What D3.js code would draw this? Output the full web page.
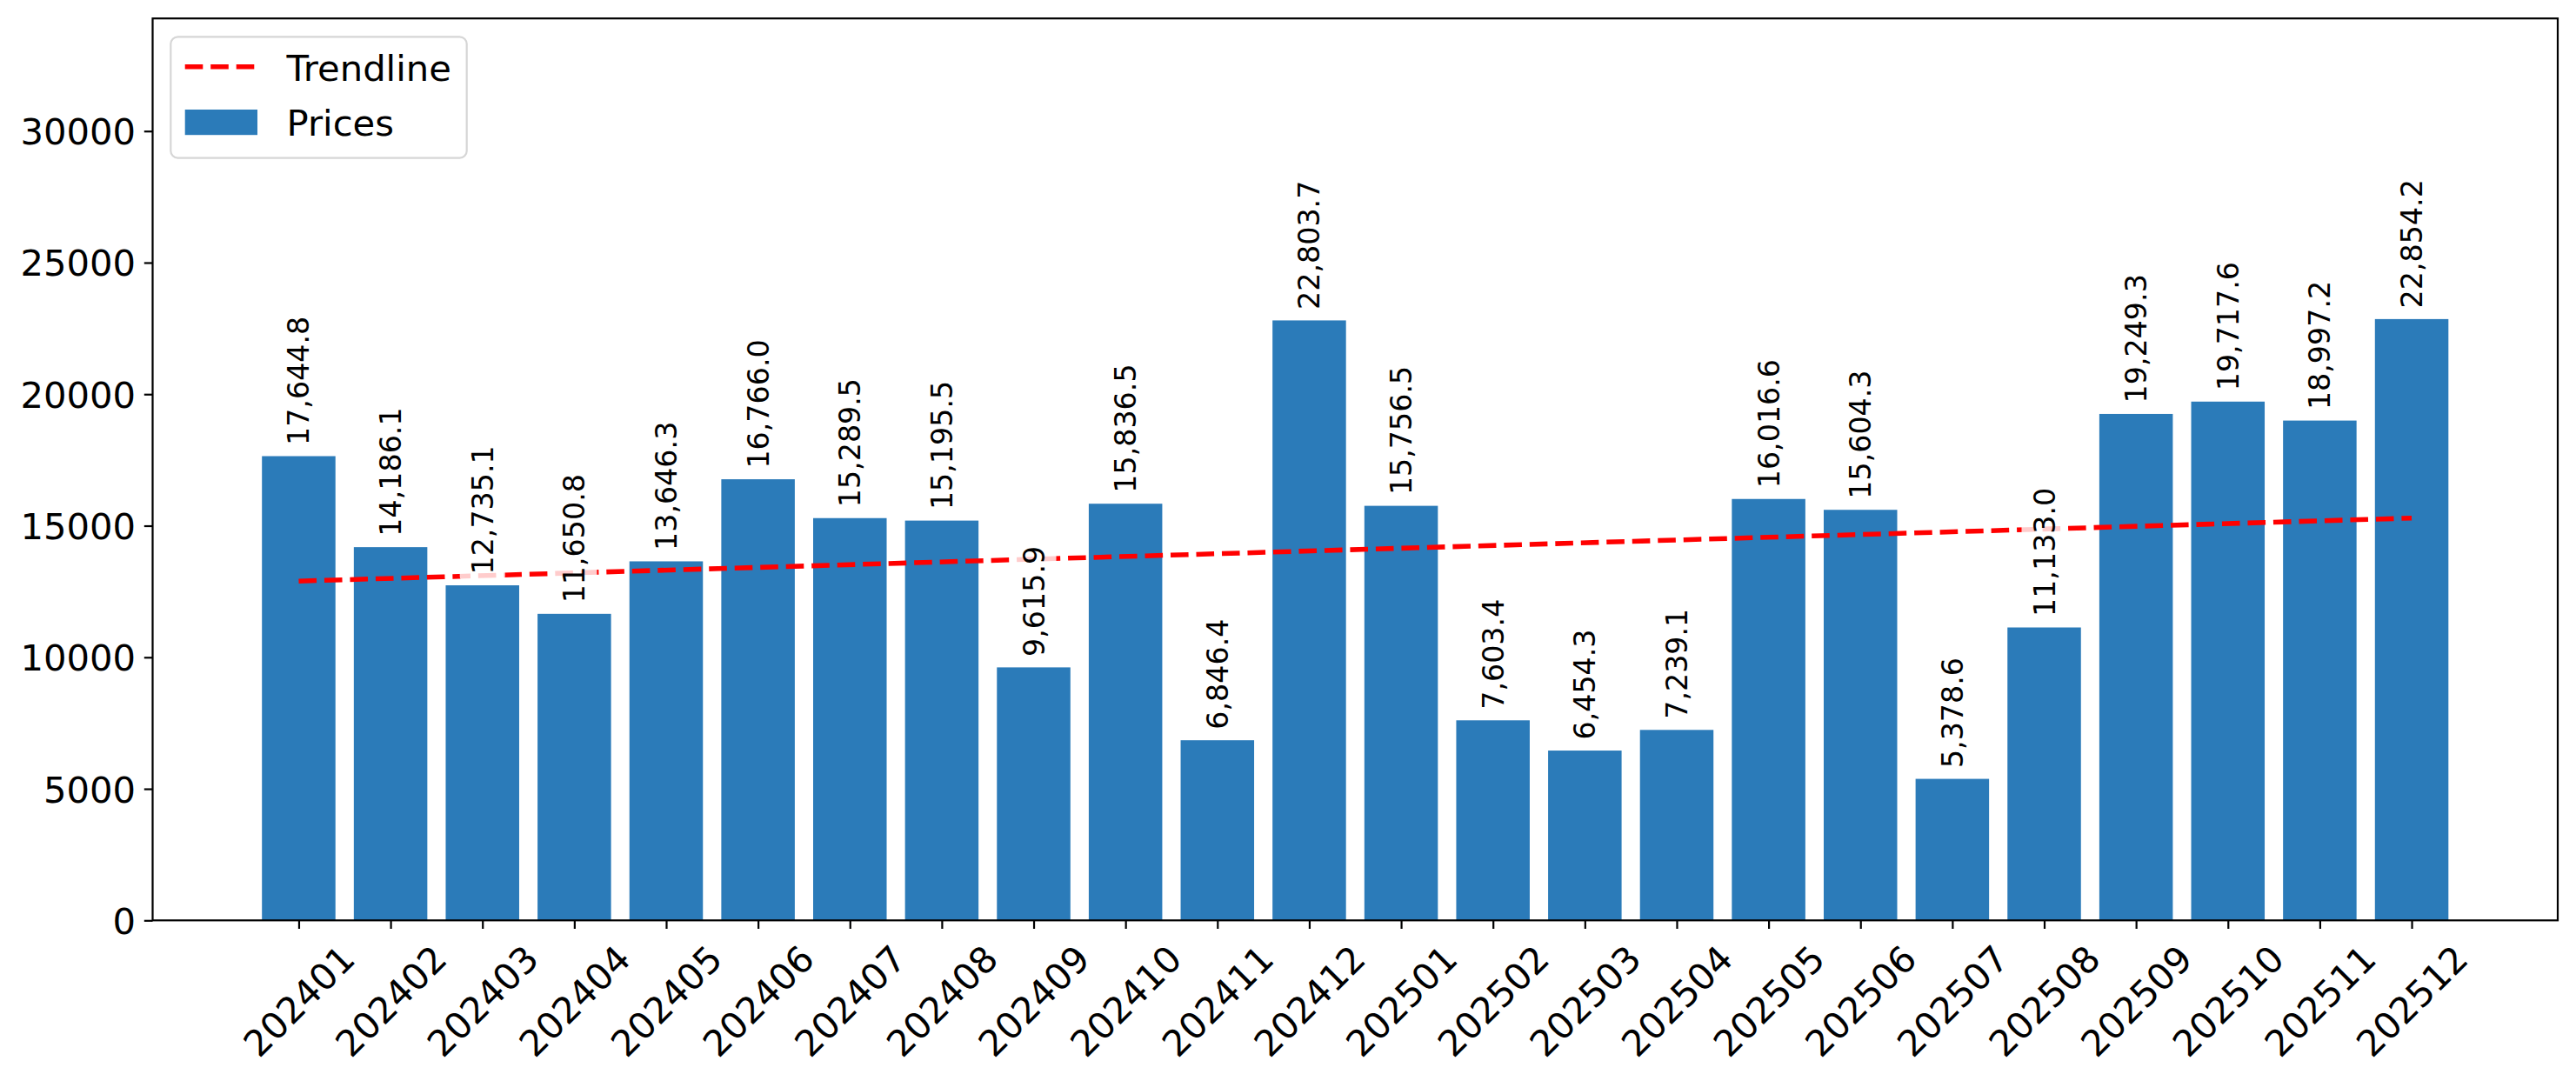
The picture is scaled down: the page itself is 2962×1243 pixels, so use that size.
<!DOCTYPE html>
<html>
<head>
<meta charset="utf-8">
<script src="https://cdn.jsdelivr.net/npm/d3@7"></script>
<style>
  html, body { margin: 0; padding: 0; background: #ffffff; }
  svg { display: block; }
</style>
</head>
<body>
<svg id="chart" width="2962" height="1243"></svg>
<script>
// ---- data ----
const categories = ["202401","202402","202403","202404","202405","202406","202407","202408","202409","202410","202411","202412",
                    "202501","202502","202503","202504","202505","202506","202507","202508","202509","202510","202511","202512"];
const prices = [17644.8,14186.1,12735.1,11650.8,13646.3,16766.0,15289.5,15195.5,9615.9,15836.5,6846.4,22803.7,
                15756.5,7603.4,6454.3,7239.1,16016.6,15604.3,5378.6,11133.0,19249.3,19717.6,18997.2,22854.2];
const trendIndex = [0, 23];
const trendValues = [12895.1, 15289.9];
const yTickValues = [0, 5000, 10000, 15000, 20000, 25000, 30000];
const legendLabels = ["Trendline", "Prices"];

// ---- layout ----
const W = 2962, H = 1243;
const plot = { left: 175.5, right: 2941, top: 21.2, bottom: 1058.3 };
const FONT = "'DejaVu Sans', sans-serif";
const tickFont = 41.7, labelFont = 33.3;
const barColor = "#2b7bb9";
const lw = 2.2, tickLen = 9.7, tickPad = 9.7;

const svg = d3.select("#chart");
svg.append("rect").attr("width", W).attr("height", H).attr("fill", "#ffffff");

const n = categories.length;
const margin = 0.05 * ((n - 1 + 0.4) - (-0.4));
const x = d3.scaleLinear().domain([-0.4 - margin, n - 1 + 0.4 + margin]).range([plot.left, plot.right]);
const yMax = d3.max(prices) * 1.5;
const y = d3.scaleLinear().domain([0, yMax]).range([plot.bottom, plot.top]);
const barW = x(0.4) - x(-0.4);

// bars
svg.append("g").selectAll("rect").data(prices).join("rect")
  .attr("x", (d, i) => x(i) - barW / 2)
  .attr("y", d => y(d))
  .attr("width", barW)
  .attr("height", d => y(0) - y(d))
  .attr("fill", barColor);

// trendline
const trendData = trendIndex.map((t, k) => ({ i: t, v: trendValues[k] }));
svg.append("path")
  .datum(trendData)
  .attr("d", d3.line().x(d => x(d.i)).y(d => y(d.v)))
  .attr("fill", "none")
  .attr("stroke", "#ff0000")
  .attr("stroke-width", 5.56)
  .attr("stroke-dasharray", "20.6 8.9");

// bar labels with semi-transparent white boxes
const fmt = d3.format(",.1f");
const lab = svg.append("g").selectAll("g").data(prices).join("g")
  .attr("transform", (d, i) => `translate(${x(i)},${y(d) - 12.5}) rotate(-90)`);
const boxes = lab.append("rect")
  .attr("fill", "#ffffff").attr("fill-opacity", 0.8)
  .attr("rx", 5).attr("ry", 5);
const texts = lab.append("text")
  .attr("dy", "0.36em")
  .attr("text-anchor", "start")
  .attr("font-family", FONT)
  .attr("font-size", labelFont)
  .attr("fill", "#000")
  .text(d => fmt(d));
texts.each(function () {
  const len = this.getComputedTextLength();
  d3.select(this.previousSibling)
    .attr("x", -7.5).attr("y", -26)
    .attr("width", len + 7.5 + 6.7).attr("height", 52);
});

// y axis
const yAxis = svg.append("g")
  .attr("transform", `translate(${plot.left},0)`)
  .call(d3.axisLeft(y).tickValues(yTickValues).tickFormat(d3.format("d")).tickSize(tickLen).tickPadding(tickPad));
yAxis.select(".domain").remove();
yAxis.selectAll(".tick line").attr("stroke", "#000").attr("stroke-width", lw);
yAxis.selectAll(".tick text")
  .attr("font-family", FONT).attr("font-size", tickFont).attr("fill", "#000")
  .attr("dy", "0.36em");

// x axis
const xAxis = svg.append("g")
  .attr("transform", `translate(0,${plot.bottom})`)
  .call(d3.axisBottom(x).tickValues(d3.range(n)).tickFormat(i => categories[i]).tickSize(tickLen).tickPadding(tickPad));
xAxis.select(".domain").remove();
xAxis.selectAll(".tick line").attr("stroke", "#000").attr("stroke-width", lw);
const textW = 6 * 0.636 * tickFont, textH = 1.164 * tickFont;
const bboxSide = (textW + textH) * Math.SQRT1_2;
xAxis.selectAll(".tick text")
  .attr("font-family", FONT).attr("font-size", tickFont).attr("fill", "#000")
  .attr("y", null).attr("dy", "0.35em")
  .attr("text-anchor", "middle")
  .attr("transform", `translate(0,${tickLen + tickPad + bboxSide / 2}) rotate(-45)`);

// frame
svg.append("rect")
  .attr("x", plot.left).attr("y", plot.top)
  .attr("width", plot.right - plot.left).attr("height", plot.bottom - plot.top)
  .attr("fill", "none").attr("stroke", "#000").attr("stroke-width", lw);

// legend
const lg = svg.append("g");
lg.append("rect")
  .attr("x", 196.3).attr("y", 42.3).attr("width", 340.4).attr("height", 139.4)
  .attr("rx", 8.3).attr("ry", 8.3)
  .attr("fill", "#ffffff").attr("fill-opacity", 0.8)
  .attr("stroke", "#d6d6d6").attr("stroke-width", lw);
lg.append("line")
  .attr("x1", 212.7).attr("x2", 296).attr("y1", 76.7).attr("y2", 76.7)
  .attr("stroke", "#ff0000").attr("stroke-width", 5.56).attr("stroke-dasharray", "20.6 8.9");
lg.append("rect")
  .attr("x", 212.7).attr("y", 126).attr("width", 83.3).attr("height", 29.2)
  .attr("fill", barColor);
lg.selectAll("text.leg").data(legendLabels).join("text")
  .attr("class", "leg")
  .attr("x", 329.5)
  .attr("y", (d, i) => [93.3, 156.3][i])
  .attr("font-family", FONT).attr("font-size", tickFont).attr("fill", "#000")
  .text(d => d);
</script>
</body>
</html>
